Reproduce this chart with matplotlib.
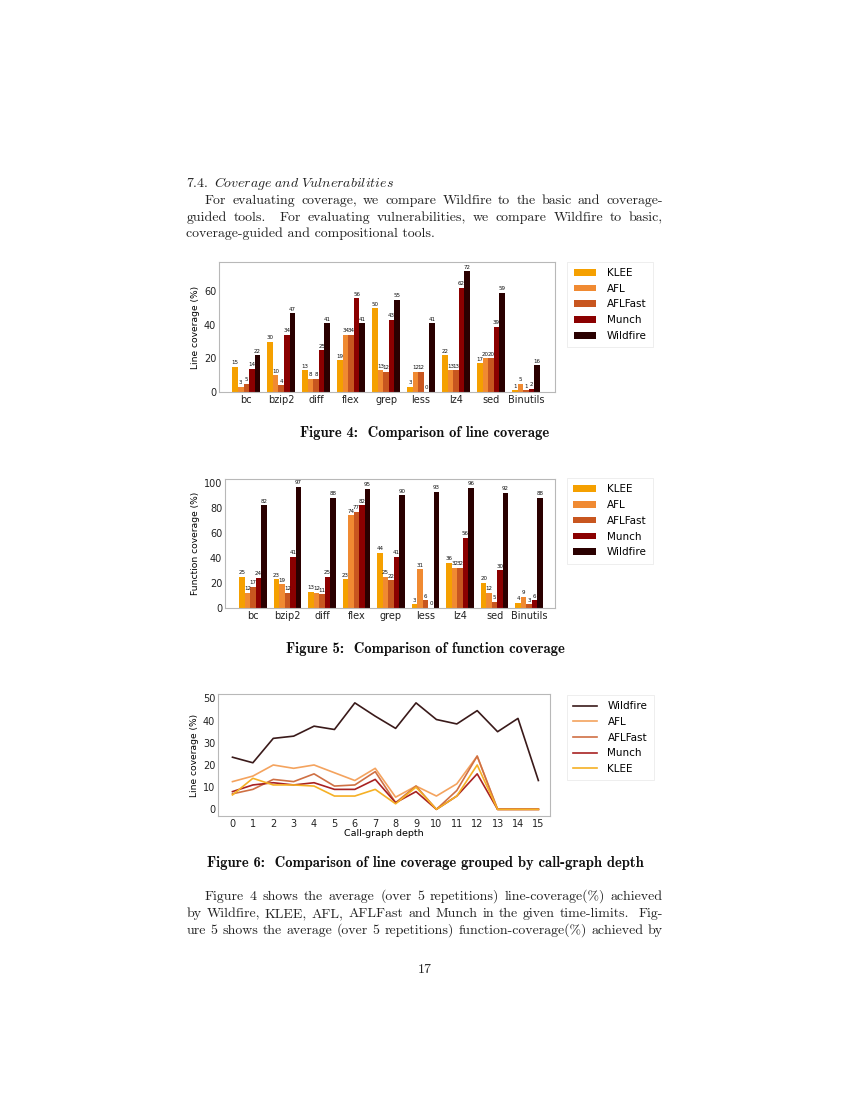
import matplotlib
matplotlib.use("Agg")
import matplotlib.pyplot as plt
import numpy as np

plt.rcParams['mathtext.fontset'] = 'cm'
plt.rcParams['font.family'] = 'DejaVu Sans'

# ---------------- data ----------------
programs = ["bc", "bzip2", "diff", "flex", "grep", "less", "lz4", "sed", "Binutils"]
tools = ["KLEE", "AFL", "AFLFast", "Munch", "Wildfire"]

line_klee = [15, 30, 13, 19, 50, 3, 22, 17, 1]
line_afl = [3, 10, 8, 34, 13, 12, 13, 20, 5]
line_aflfast = [5, 4, 8, 34, 12, 12, 13, 20, 1]
line_munch = [14, 34, 25, 56, 43, 0, 62, 39, 2]
line_wildfire = [22, 47, 41, 41, 55, 41, 72, 59, 16]

func_klee = [25, 23, 13, 23, 44, 3, 36, 20, 4]
func_afl = [12, 19, 12, 74, 25, 31, 32, 12, 9]
func_aflfast = [17, 12, 11, 77, 22, 6, 32, 5, 3]
func_munch = [24, 41, 25, 82, 41, 0, 56, 30, 6]
func_wildfire = [82, 97, 88, 95, 90, 93, 96, 92, 88]

depth = list(range(16))
depth_wildfire = [23.5, 21, 32, 33, 37.5, 36, 48, 42, 36.5, 48, 40.5, 38.5, 44.5, 35, 41, 13]
depth_afl = [12.5, 15, 20, 18.5, 20, 16.5, 13, 18.5, 5.5, 10.5, 6, 11.5, 24, 0, 0, 0]
depth_aflfast = [7, 9, 13.5, 12.5, 16, 10.5, 11, 17, 3, 10.5, 0, 8.5, 24, 0, 0, 0]
depth_munch = [8, 11, 12, 11, 12, 9, 9, 13.5, 3, 8, 0, 6, 16, 0, 0, 0]
depth_klee = [6.5, 14, 11, 11, 10.5, 6, 6, 9, 2.5, 10, 0, 6, 20, 0, 0, 0]

bar_colors = ["#f5a000", "#f08a32", "#c8561f", "#8b0000", "#2a0000"]
line_colors = {"Wildfire": "#3a1a1a", "AFL": "#f4a35e", "AFLFast": "#cf7044",
               "Munch": "#a82222", "KLEE": "#f5b025"}

W, H = 850, 1100
fig = plt.figure(figsize=(8.5, 11), dpi=100)


def px_axes(l, t, r, b):
    return fig.add_axes([l / W, 1 - b / H, (r - l) / W, (b - t) / H])


def style(ax):
    for s in ax.spines.values():
        s.set_color("#b8b8b8")
        s.set_linewidth(0.8)
    ax.tick_params(length=0, labelsize=7, colors="#222222", pad=2)


def grouped(ax, series, ylim, xlim, ylabel, yticks, anchor):
    x = np.arange(len(programs))
    bw = 0.158
    for i, (vals, name) in enumerate(zip(series, tools)):
        pos = x + (i - 2) * bw
        ax.bar(pos, vals, bw, color=bar_colors[i], label=name, linewidth=0)
        for p, v in zip(pos, vals):
            ax.text(p, v + ylim[1] * 0.012, str(v), ha="center", va="bottom",
                    fontsize=4.0, color="#111111")
    ax.set_xticks(x)
    ax.set_xticklabels(programs)
    ax.set_yticks(yticks)
    ax.set_ylim(*ylim)
    ax.set_xlim(*xlim)
    ax.set_ylabel(ylabel, fontsize=6.6, labelpad=3)
    style(ax)
    leg = ax.legend(loc="upper left", bbox_to_anchor=anchor, fontsize=7.5,
                    frameon=True, fancybox=False, handlelength=2.2, handleheight=0.6,
                    labelspacing=0.55, borderpad=0.6, handletextpad=1.0)
    leg.get_frame().set_edgecolor("#e6e6e6")
    leg.get_frame().set_linewidth(0.6)


ax1 = px_axes(219, 262, 555, 392)
grouped(ax1, [line_klee, line_afl, line_aflfast, line_munch, line_wildfire],
        (0, 77.5), (-0.78, 8.83), "Line coverage (%)", [0, 20, 40, 60],
        (1.021, 1.042))

ax2 = px_axes(225, 479, 555, 608)
grouped(ax2, [func_klee, func_afl, func_aflfast, func_munch, func_wildfire],
        (0, 103), (-0.81, 8.75), "Function coverage (%)", [0, 20, 40, 60, 80, 100],
        (1.021, 1.047))

ax3 = px_axes(218, 694, 550, 816)
for name, vals in [("Wildfire", depth_wildfire), ("AFL", depth_afl),
                   ("AFLFast", depth_aflfast), ("Munch", depth_munch),
                   ("KLEE", depth_klee)]:
    ax3.plot(depth, vals, color=line_colors[name], lw=1.2, label=name)
ax3.set_xticks(depth)
ax3.set_yticks([0, 10, 20, 30, 40, 50])
ax3.set_xlim(-0.71, 15.57)
ax3.set_ylim(-3, 52)
ax3.set_xlabel("Call-graph depth", fontsize=6.8, labelpad=0)
ax3.set_ylabel("Line coverage (%)", fontsize=6.6, labelpad=3)
style(ax3)
leg3 = ax3.legend(loc="upper left", bbox_to_anchor=(1.035, 1.035), fontsize=7.5,
                  frameon=True, fancybox=False, handlelength=2.3,
                  labelspacing=0.55, borderpad=0.6, handletextpad=1.0)
leg3.get_frame().set_edgecolor("#e6e6e6")
leg3.get_frame().set_linewidth(0.6)

# ---------------- page text ----------------
renderer = fig.canvas.get_renderer()
LEFT, RIGHT = 186.5, 663.0
BODY = dict(family="cmr10", fontsize=10, color="#222222")


def justify(words_line, x0, y, justify_line=True):
    words = words_line.split(" ")
    if not justify_line:
        fig.text(x0 / W, 1 - y / H, words_line, ha="left", va="baseline", **BODY)
        return
    texts = [fig.text(0, 0, w, ha="left", va="baseline", **BODY) for w in words]
    widths = []
    for t in texts:
        bb = t.get_window_extent(renderer=renderer)
        widths.append(bb.width)
    gap = (RIGHT - x0 - sum(widths)) / max(len(words) - 1, 1)
    x = x0
    for t, wdt in zip(texts, widths):
        t.set_position((x / W, 1 - y / H))
        x += wdt + gap


fig.text(LEFT / W, 1 - 186.5 / H,
         r"$\mathit{7.4.\ Coverage\ and\ Vulnerabilities}$",
         ha="left", va="baseline", fontsize=10, color="#222222")
justify("For evaluating coverage, we compare Wildfire to the basic and coverage-", 205, 204)
justify("guided tools.  For evaluating vulnerabilities, we compare Wildfire to basic,", LEFT, 221)
justify("coverage-guided and compositional tools.", LEFT, 237, justify_line=False)

CAP = dict(family="cmb10", fontsize=10.5, color="#111111", ha="center", va="baseline")
fig.text(425 / W, 1 - 437 / H, "Figure 4:  Comparison of line coverage", **CAP)
fig.text(425 / W, 1 - 653 / H, "Figure 5:  Comparison of function coverage", **CAP)
fig.text(425 / W, 1 - 867 / H,
         "Figure 6:  Comparison of line coverage grouped by call-graph depth", **CAP)

justify("Figure 4 shows the average (over 5 repetitions) line-coverage(%) achieved", 205, 900)
justify("by Wildfire, KLEE, AFL, AFLFast and Munch in the given time-limits.  Fig-", LEFT, 917)
justify("ure 5 shows the average (over 5 repetitions) function-coverage(%) achieved by", LEFT, 934)
fig.text(425 / W, 1 - 973 / H, "17", ha="center", va="baseline", **BODY)

fig.savefig("out.png", dpi=100)
